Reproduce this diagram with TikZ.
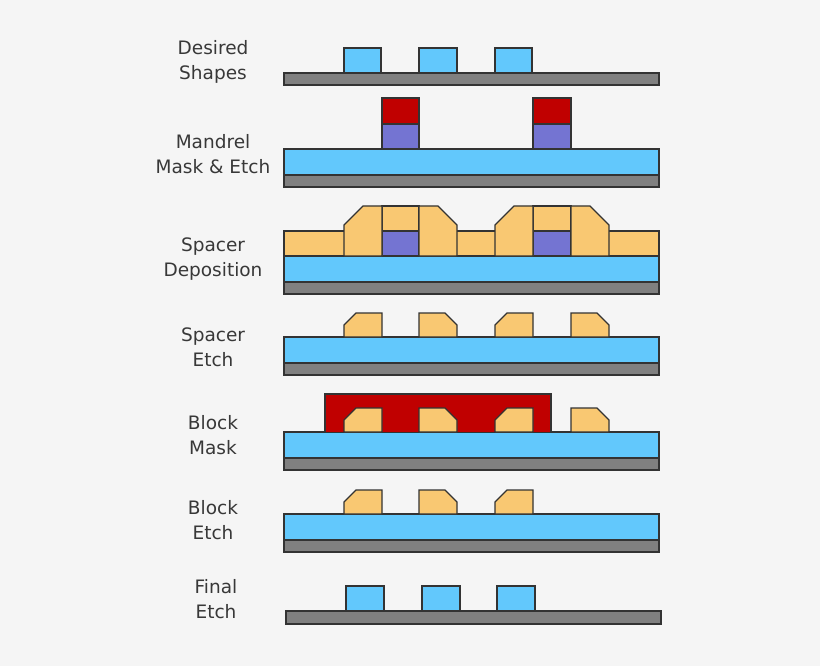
\documentclass[tikz,border=0pt]{standalone}
\usepackage{fontspec}
\setmainfont{DejaVu Sans}
\begin{document}
\begin{tikzpicture}[x=1pt,y=-1pt,
  sh/.style={draw=black!80,line width=1.3pt,line join=miter},
  sub/.style={sh,fill=subg},
  bl/.style={sh,fill=blu},
  orn/.style={sh,fill=orng},
  rd/.style={sh,fill=redm},
  pu/.style={sh,fill=purp},
  lbl/.style={align=center,font=\fontsize{18.5pt}{25pt}\selectfont,text=black!78}]
\definecolor{subg}{HTML}{808080}
\definecolor{blu}{HTML}{62C8FC}
\definecolor{orng}{HTML}{F9C872}
\definecolor{redm}{HTML}{C00000}
\definecolor{purp}{HTML}{7474D2}
\definecolor{bg}{HTML}{F5F5F5}
\fill[bg] (0,0) rectangle (820,666);
\useasboundingbox (0,0) rectangle (820,666);
% labels
\node[lbl] (l1) at (213,62) {Desired\\Shapes};
\node[lbl] (l2) at (213,154) {Mandrel\\Mask \& Etch};
\node[lbl] (l3) at (213,259) {Spacer\\Deposition};
\node[lbl] (l4) at (213,347) {Spacer\\Etch};
\node[lbl] (l5) at (213,435) {Block\\Mask};
\node[lbl] (l6) at (213,520) {Block\\Etch};
\node[lbl] (l7) at (216,599) {Final\\Etch};
% row 1
\draw[sub] (284,73) rectangle (659,85);
\foreach \a/\b in {344/381,419/457,495/532} \draw[bl] (\a,48) rectangle (\b,73);
% row 2
\draw[bl] (284,149) rectangle (659,175);
\draw[sub] (284,175) rectangle (659,187);
\foreach \a/\b in {382/419,533/571}{\draw[pu] (\a,124) rectangle (\b,149); \draw[rd] (\a,98) rectangle (\b,124);}
% row 3
\draw[bl] (284,256) rectangle (659,282);
\draw[sub] (284,282) rectangle (659,294);
\draw[orn] (284,231) rectangle (659,256);
\foreach \a/\b in {382/419,533/571}{\draw[pu] (\a,231) rectangle (\b,256); \draw[orn] (\a,206) rectangle (\b,231);}
\foreach \a in {344,495}{\draw[orn] (\a,256) -- (\a,225) -- (\a+19,206) -- (\a+38,206) -- (\a+38,256) -- cycle;}
\foreach \a in {419,571}{\draw[orn] (\a,256) -- (\a,206) -- (\a+19,206) -- (\a+38,225) -- (\a+38,256) -- cycle;}
% spacer macros
\newcommand{\spL}[2]{\draw[orn] (#1,#2) -- (#1,#2-12) -- (#1+12,#2-24) -- (#1+38,#2-24) -- (#1+38,#2) -- cycle;}
\newcommand{\spR}[2]{\draw[orn] (#1,#2) -- (#1,#2-24) -- (#1+26,#2-24) -- (#1+38,#2-12) -- (#1+38,#2) -- cycle;}
% row 4
\draw[bl] (284,337) rectangle (659,363);
\draw[sub] (284,363) rectangle (659,375);
\spL{344}{337}\spR{419}{337}\spL{495}{337}\spR{571}{337}
% row 5
\draw[bl] (284,432) rectangle (659,458);
\draw[sub] (284,458) rectangle (659,470);
\draw[rd] (325,432) -- (325,394) -- (551,394) -- (551,432);
\spL{344}{432}\spR{419}{432}\spL{495}{432}\spR{571}{432}
% row 6
\draw[bl] (284,514) rectangle (659,540);
\draw[sub] (284,540) rectangle (659,552);
\spL{344}{514}\spR{419}{514}\spL{495}{514}
% row 7
\draw[sub] (286,611) rectangle (661,624);
\foreach \a/\b in {346/384,422/460,497/535} \draw[bl] (\a,586) rectangle (\b,611);
\end{tikzpicture}
\end{document}
